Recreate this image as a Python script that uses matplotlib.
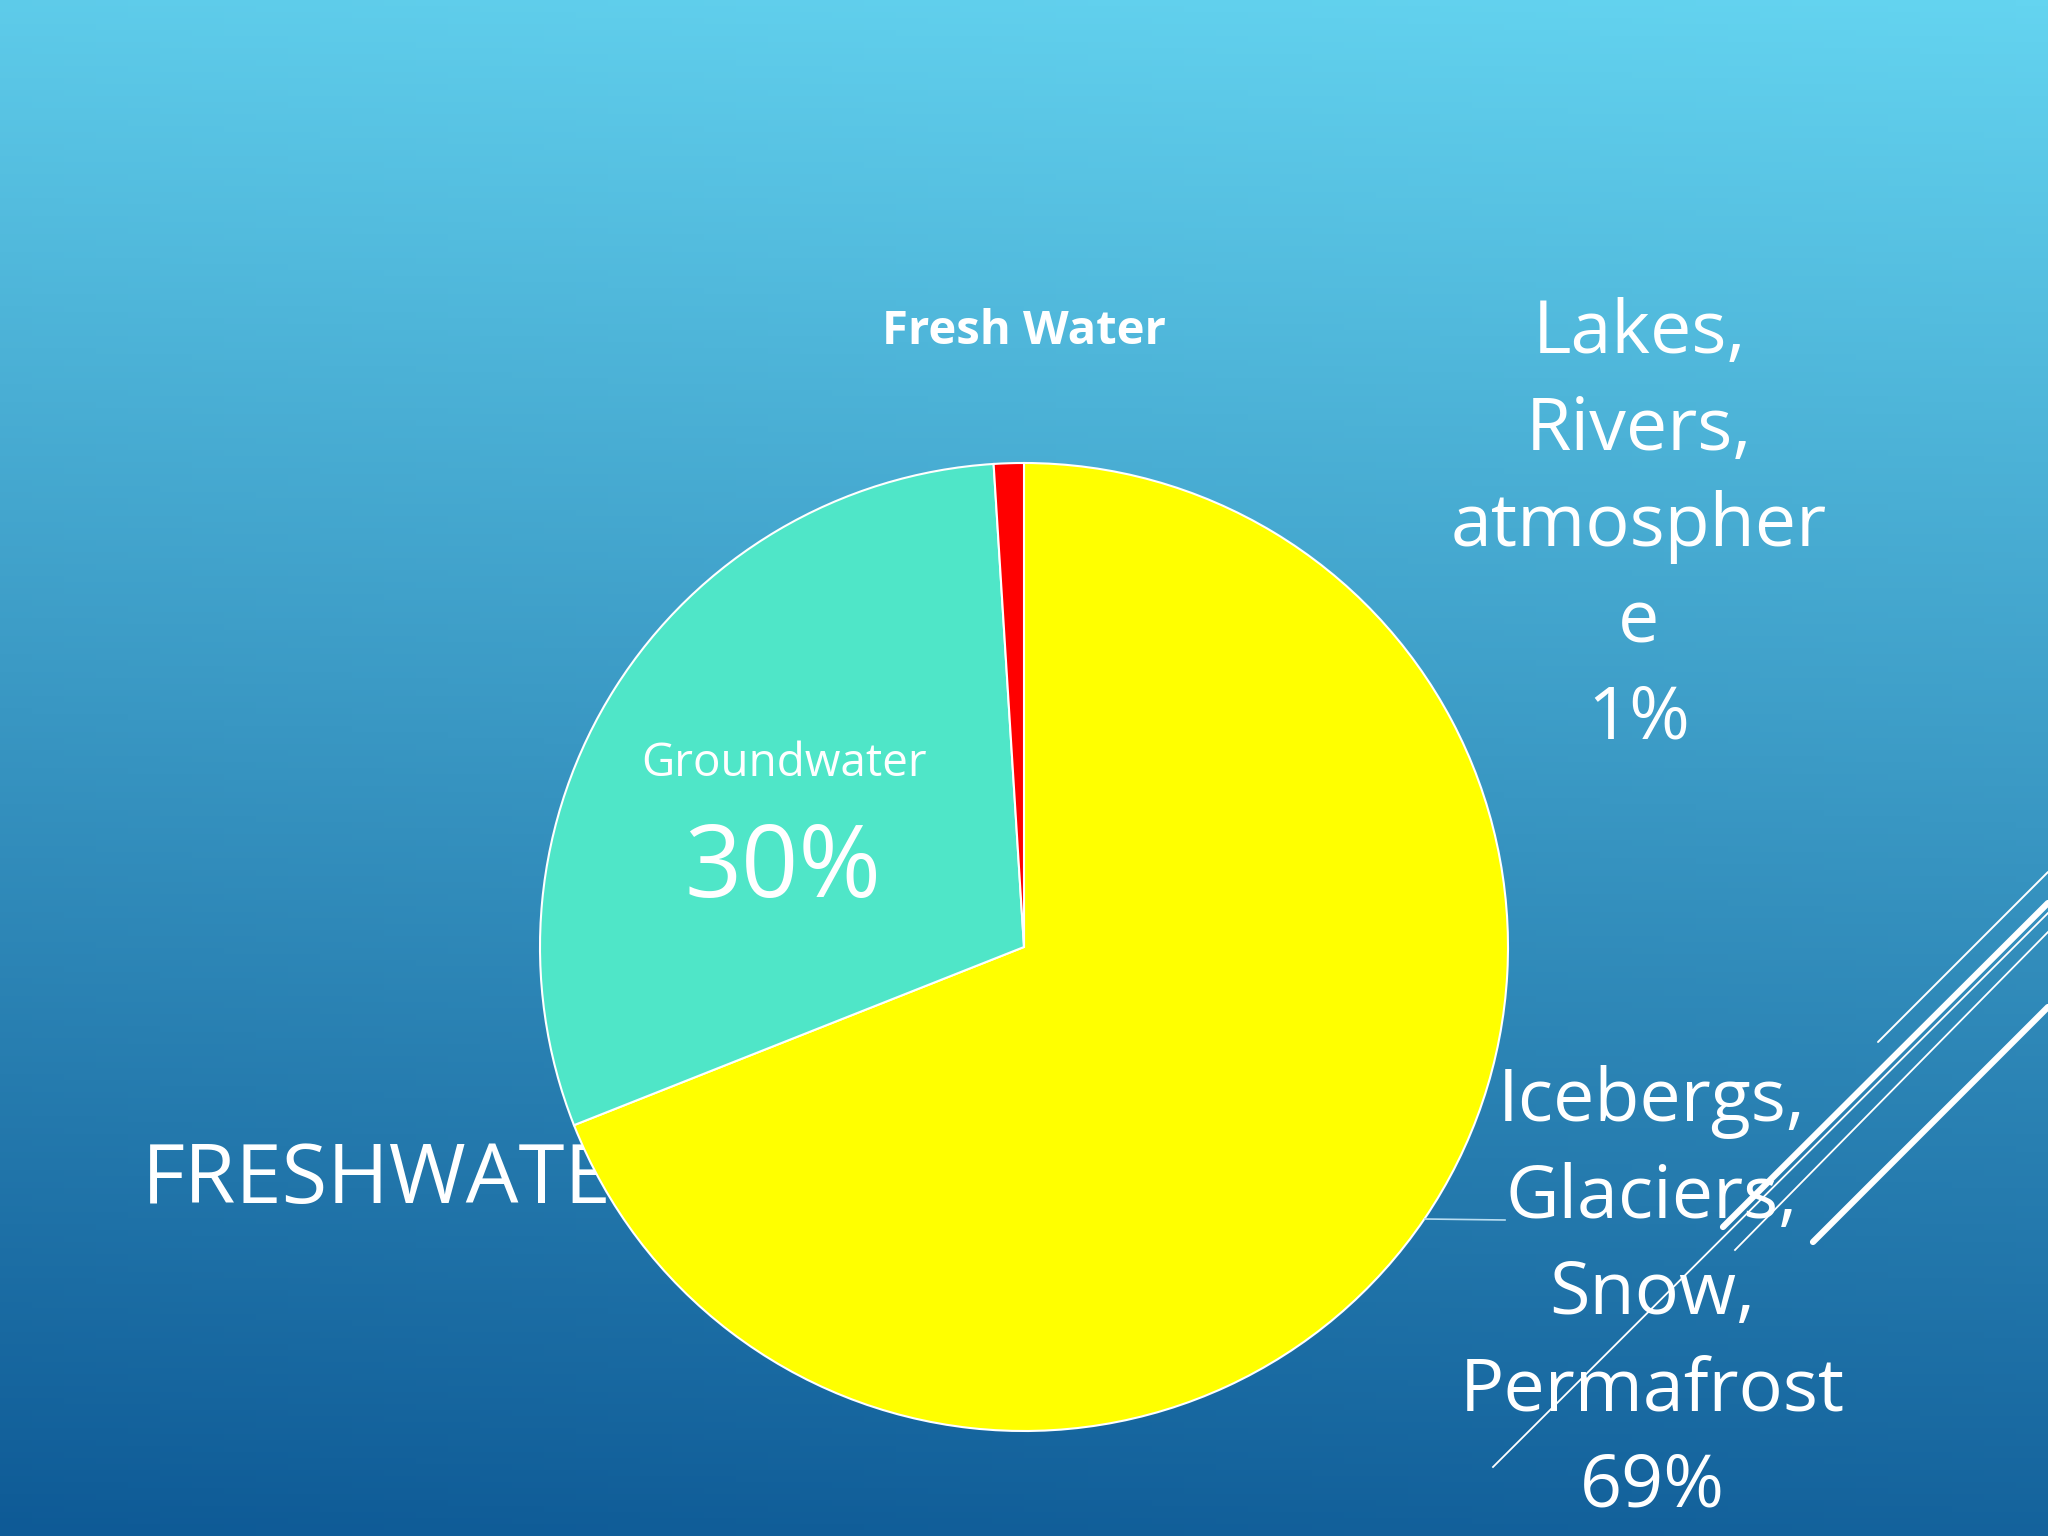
import numpy as np
import matplotlib
matplotlib.use('Agg')
import matplotlib.pyplot as plt

# pie data (Fresh Water distribution)
labels = ['Icebergs,\nGlaciers,\nSnow,\nPermafrost', 'Groundwater', 'Lakes,\nRivers,\natmospher\ne']
shares = [69, 30, 1]
colors = ['#FFFF00', '#4FE6C8', '#FF0000']

plt.rcParams['font.family'] = ['Open Sans', 'DejaVu Sans']

W, H = 2048, 1536
fig = plt.figure(figsize=(20.48, 15.36), dpi=100)
ax = fig.add_axes([0, 0, 1, 1])

# background gradient (light cyan top -> dark blue bottom)
top = np.array([100, 212, 240]) / 255
bot = np.array([14, 90, 150]) / 255
yy = np.linspace(0, 1, 256)[:, None]
xx = np.linspace(0, 1, 64)[None, :]
t = np.clip(yy * 0.93 + (1 - xx) * 0.07, 0, 1)
grad = top[None, None, :] * (1 - t[..., None]) + bot[None, None, :] * t[..., None]
ax.imshow(grad, extent=[0, W, 0, H], origin='upper', aspect='auto', zorder=0)

# big slide title partly hidden behind the pie
ax.text(142, 354, 'FRESHWATER', color='white', fontsize=60, ha='left', va='center',
        zorder=1)

# pie
cx, cy, r = 1024, 589, 484
wedges, _ = ax.pie(shares, colors=colors, startangle=90, counterclock=False,
                   center=(cx, cy), radius=r, frame=True,
                   wedgeprops=dict(edgecolor='white', linewidth=1.5, zorder=2))
for w in wedges:
    w.set_zorder(2)

ax.set_xlim(0, W)
ax.set_ylim(0, H)
ax.set_aspect('auto')
ax.axis('off')

ax.text(1024, 1205, 'Fresh Water', color='white', fontsize=34, fontweight='bold',
        ha='center', va='center', zorder=4)

# data labels
ax.text(784, 772, labels[1], color='white', fontsize=33, ha='center', va='center', zorder=4)
ax.text(783, 665, f'{shares[1]}%', color='white', fontsize=72, ha='center', va='center', zorder=4)
ax.text(1639, 1009, labels[2] + f'\n{shares[2]}%', color='white', fontsize=53,
        ha='center', va='center', linespacing=1.4, zorder=4)
ax.text(1652, 241, labels[0] + f'\n{shares[0]}%', color='white', fontsize=53,
        ha='center', va='center', linespacing=1.4, zorder=4)

# leader line for the yellow slice
ax.plot([1425, 1505], [317, 316], color='#B8DDF2', lw=1.2, zorder=3)

# decorative diagonal strokes
ax.plot([1878, 2048], [494, 664], color='white', lw=1.4, zorder=3, solid_capstyle='round')
ax.plot([1723, 2048], [309, 633], color='white', lw=4.5, zorder=3, solid_capstyle='round')
ax.plot([1493, 2048], [69, 623], color='white', lw=1.3, zorder=3)
ax.plot([1735, 2048], [286, 604], color='white', lw=1.3, zorder=3)
ax.plot([1813, 2048], [294, 529], color='white', lw=4.5, zorder=3, solid_capstyle='round')

fig.savefig('out.png', dpi=100)
